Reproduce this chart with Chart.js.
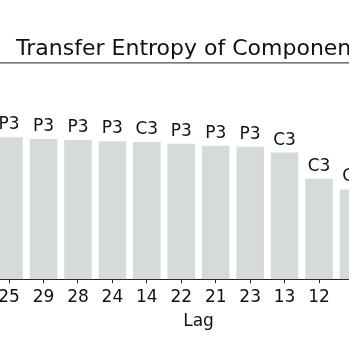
<!DOCTYPE html>
<html>
<head>
<meta charset="utf-8">
<style>
  html, body { margin: 0; padding: 0; background: #fff; }
  body { width: 349px; height: 349px; overflow: hidden; position: relative; }
  #wrap { position: absolute; left: -25px; top: 0; width: 447px; height: 349px; }
</style>
</head>
<body>
<div id="wrap">
    <canvas id="myChart"></canvas>
</div>

<script src="https://cdn.jsdelivr.net/npm/chart.js"></script>

<script>
    // lags, sorted by transfer entropy (only the part that is in view)
    const lags = ['25', '29', '28', '24', '14', '22', '21', '23', '13', '12', '9'];
    const components = ['P3', 'P3', 'P3', 'P3', 'C3', 'P3', 'P3', 'P3', 'C3', 'C3', 'C3'];
    const entropy = [0.655, 0.647, 0.642, 0.636, 0.633, 0.625, 0.615, 0.611, 0.584, 0.463, 0.414];
    const yMax = 1.0;

    const barColor = '#d5dbdb';
    const font = 'DejaVu Sans';

    // component name over each bar
    const barLabels = {
        id: 'barLabels',
        afterDatasetsDraw(chart) {
            const ctx = chart.ctx;
            const meta = chart.getDatasetMeta(0);
            ctx.save();
            ctx.font = '17px "' + font + '"';
            ctx.fillStyle = '#111';
            ctx.textAlign = 'center';
            ctx.textBaseline = 'alphabetic';
            meta.data.forEach((bar, i) => {
                ctx.fillText(components[i], bar.x, bar.y - 8);
            });
            ctx.restore();
        }
    };

    // top spine like matplotlib
    const topSpine = {
        id: 'topSpine',
        afterDraw(chart) {
            const a = chart.chartArea;
            const ctx = chart.ctx;
            ctx.save();
            ctx.strokeStyle = '#222';
            ctx.lineWidth = 1;
            ctx.beginPath();
            ctx.moveTo(a.left, a.top + 0.5);
            ctx.lineTo(a.right, a.top + 0.5);
            ctx.stroke();
            ctx.restore();
        }
    };

    const data = {
        datasets: [{
            label: 'Transfer entropy',
            data: entropy.map((v, i) => ({ x: i, y: v })),
            backgroundColor: barColor,
            borderWidth: 0,
            barPercentage: 0.8,
            categoryPercentage: 1.0
        }]
    };

    const ctx = document.getElementById('myChart');
    myChart = new Chart(ctx, {
        type: 'bar',
        data: data,
        plugins: [barLabels, topSpine],
        options: {
            responsive: true,
            maintainAspectRatio: false,
            animation: false,
            layout: { padding: { left: 0, right: 0, top: 0, bottom: 13 } },
            plugins: {
                legend: { display: false },
                tooltip: { enabled: false },
                title: {
                    display: true,
                    text: 'Transfer Entropy of Component 1',
                    color: '#111',
                    font: { family: font, size: 22, weight: 'normal' },
                    padding: { top: 36, bottom: 0 }
                }
            },
            scales: {
                x: {
                    type: 'linear',
                    offset: false,
                    min: -0.99,
                    max: 11.99,
                    afterBuildTicks: axis => {
                        axis.ticks = lags.map((_, i) => ({ value: i }));
                    },
                    ticks: {
                        autoSkip: false,
                        maxRotation: 0,
                        padding: 4,
                        color: '#111',
                        font: { family: font, size: 17 },
                        callback: value => lags[value]
                    },
                    grid: {
                        offset: false,
                        drawOnChartArea: false,
                        drawTicks: true,
                        tickLength: 4,
                        color: '#222'
                    },
                    border: { display: true, color: '#222', width: 1 },
                    title: {
                        display: true,
                        text: 'Lag',
                        color: '#111',
                        font: { family: font, size: 17 },
                        padding: { top: 0, bottom: 4 }
                    }
                },
                y: {
                    display: false,
                    min: 0,
                    max: yMax
                }
            }
        }
    });
</script>
</body>
</html>
